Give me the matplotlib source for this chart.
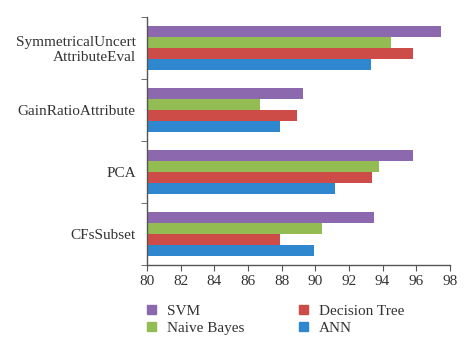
import numpy as np
import matplotlib
matplotlib.use("Agg")
import matplotlib.pyplot as plt
from matplotlib.patches import Patch

# categories listed bottom to top
categories = ["CFsSubset", "PCA", "GainRatioAttribute", "SymmetricalUncert\nAttributeEval"]
svm = [93.5, 95.8, 89.3, 97.5]
naive_bayes = [90.4, 93.8, 86.7, 94.5]
decision_tree = [87.9, 93.4, 88.9, 95.8]
ann = [89.9, 91.2, 87.9, 93.3]

series = [
    ("SVM", svm, "#8C68AE"),
    ("Naive Bayes", naive_bayes, "#93BD52"),
    ("Decision Tree", decision_tree, "#CE4C47"),
    ("ANN", ann, "#2F88CF"),
]

plt.rcParams["font.family"] = ["Liberation Serif", "DejaVu Serif"]
text_color = "#333333"

fig = plt.figure(figsize=(4.74, 3.53), dpi=100)
ax = fig.add_axes([0.310, 0.249, 0.639, 0.703])

y = np.arange(len(categories))
h = 0.18
offsets = [0.27, 0.09, -0.09, -0.27]
for (name, vals, color), off in zip(series, offsets):
    ax.barh(y + off, np.array(vals) - 80, left=80, height=h, color=color, label=name)

ax.set_xlim(80, 98)
ax.set_ylim(-0.5, len(categories) - 0.5)
ax.set_xticks(np.arange(80, 99, 2))
ax.set_yticks(y)
ax.set_yticklabels(categories, ha="right")
ax.set_yticks(np.arange(-0.5, len(categories)), minor=True)
ax.tick_params(axis="y", which="major", length=0, pad=8, labelsize=11, labelcolor=text_color)
ax.tick_params(axis="y", which="minor", length=4, direction="out", color="#555555")
ax.tick_params(axis="x", length=4, direction="out", color="#555555", labelsize=11,
               labelcolor=text_color, pad=3)

for s in ["top", "right"]:
    ax.spines[s].set_visible(False)
for s in ["left", "bottom"]:
    ax.spines[s].set_color("#555555")
    ax.spines[s].set_linewidth(1.0)

handles = [Patch(color=c, label=n) for n, _, c in series]
fig.legend(handles=handles, ncol=2, loc="upper left", bbox_to_anchor=(0.281, 0.176),
           frameon=False, fontsize=11, handlelength=0.6, handleheight=0.6,
           handletextpad=0.7, columnspacing=3.6, labelspacing=0.25, labelcolor=text_color)

fig.savefig("out.png", dpi=100)
